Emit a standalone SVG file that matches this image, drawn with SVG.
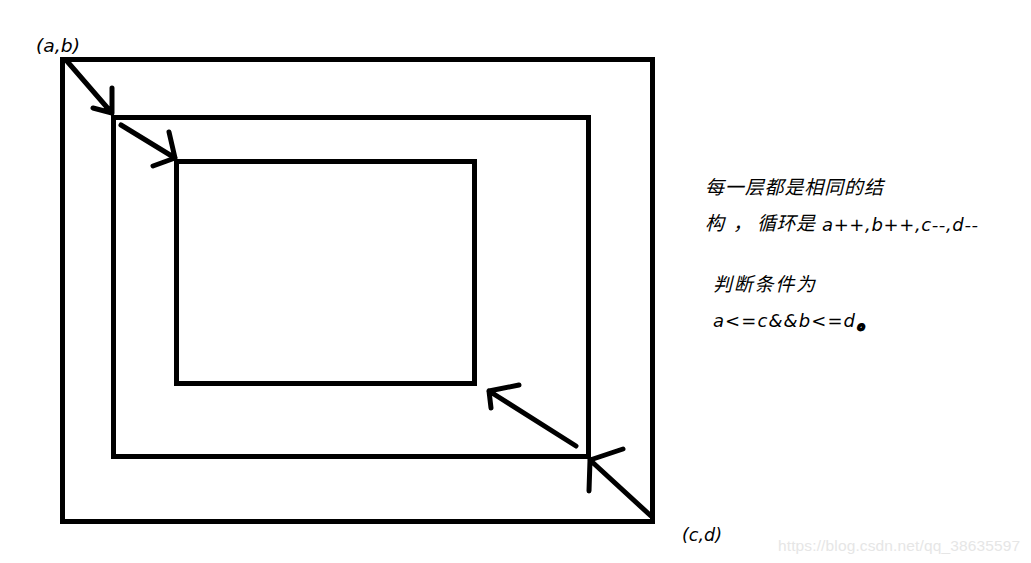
<svg xmlns="http://www.w3.org/2000/svg" width="1031" height="563" viewBox="0 0 1031 563">
<style>
.box{fill:none;stroke:#000;stroke-width:5}
.ln{fill:none;stroke:#000;stroke-width:5;stroke-linecap:round;stroke-linejoin:round}
.t{font-family:"DejaVu Sans","Noto Sans CJK SC",sans-serif;font-style:oblique;font-size:18px;fill:#000}
.c{font-family:"Noto Sans CJK SC",sans-serif;font-style:italic;font-size:19px;fill:#000}
.wm{font-family:"Liberation Sans",Arial,sans-serif;font-size:15.5px;fill:#e6e6e6}
</style>
<rect width="1031" height="563" fill="#fff"/>
<g id="outer"><rect class="box" x="62.5" y="59.5" width="590" height="462"/></g>
<g id="middle"><rect class="box" x="113.5" y="117.5" width="475" height="339"/></g>
<g id="inner"><rect class="box" x="176.5" y="161.5" width="298" height="222"/></g>
<g id="connectors">
<path class="ln" d="M66,60 L111,112 M112,88 L112,113 L93,108"/>
<path class="ln" d="M121,125 L175,158 M169,132 L175,158 L153,166"/>
<path class="ln" d="M576,446 L489,391 M519,385 L489,391 L491,408"/>
<path class="ln" d="M651,516 L590,460 M623,449 L590,460 L589,491"/>
</g>
<g id="labels">
<text class="t" x="36" y="52" textLength="44" lengthAdjust="spacingAndGlyphs">(a,b)</text>
<text class="t" x="682" y="541" textLength="40" lengthAdjust="spacingAndGlyphs">(c,d)</text>
<text class="c" x="705" y="194" textLength="178">每一层都是相同的结</text>
<text class="c" x="705" y="230">构</text>
<text class="c" x="733" y="230">，</text>
<text class="c" x="757" y="230" textLength="58">循环是</text>
<text class="t" x="822" y="231" textLength="156">a++,b++,c--,d--</text>
<text class="c" x="713" y="291" textLength="102">判断条件为</text>
<text class="t" x="713" y="327" textLength="142">a&lt;=c&amp;&amp;b&lt;=d</text>
<text class="c" x="857" y="329" font-size="12" stroke="#000" stroke-width="2.5">。</text>
</g>
<text class="wm" x="778" y="551" textLength="242">https://blog.csdn.net/qq_38635597</text>
</svg>
